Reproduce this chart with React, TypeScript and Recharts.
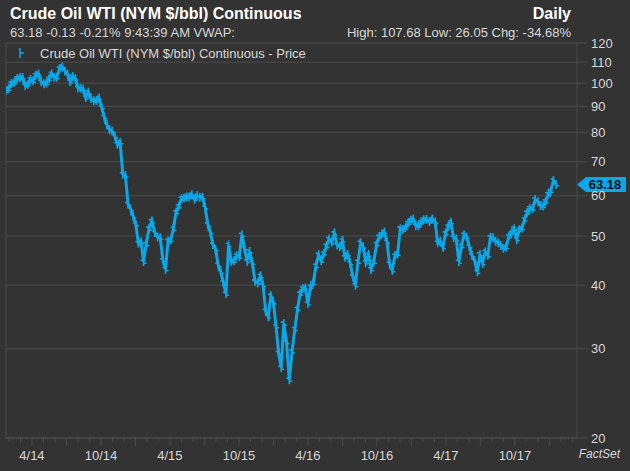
import React from "react";
import { ComposedChart, Line, XAxis, YAxis, CartesianGrid, ReferenceLine } from "recharts";

const FONT = '"Liberation Sans", Arial, Helvetica, sans-serif';
const BG = "#333333";
const GRID = "#4b4b4b";
const BLUE = "#0aa8e8";
const TEXT = "#d8d8d8";

// Weekly (Friday) prices, first one on 2014-01-24
const firstFriday = Date.UTC(2014, 0, 24);

const prices2014 = [
  96.6, 97.5, 99.9, 100.3, 102.2, 102.6, 102.6, 98.9, 99.5, 101.7, 101.1, 103.7, 104.3,
  100.6, 99.8, 100.0, 102.0, 104.4, 102.7, 102.7, 106.9, 107.68, 105.7, 104.1, 100.8,
  103.1, 102.1, 97.9, 97.7, 97.4, 93.7, 96.0, 93.3, 92.3, 92.4, 93.5, 89.7, 85.8, 82.8,
  81.0, 80.5, 78.7, 75.8, 76.5, 66.2, 65.8, 57.8, 56.5, 54.7,
];
const prices2015 = [
  52.7, 48.4, 48.7, 44.5, 48.2, 51.7, 53.5, 50.8, 49.8, 49.6, 44.8, 43.0, 48.9, 49.1,
  51.6, 55.7, 57.2, 59.2, 59.4, 59.7, 59.7, 60.3, 59.1, 60.0, 59.6, 59.6, 56.9, 52.7,
  50.9, 48.1, 47.1, 43.9, 42.5, 40.5, 38.5, 48.0, 44.6, 44.7, 45.7, 45.5, 50.3, 47.3,
  44.6, 46.6, 44.3, 40.7, 40.4, 41.7, 40.0, 35.6, 34.7, 38.1,
];
const prices2016 = [
  37.0, 33.2, 29.4, 27.5, 33.6, 30.9, 26.05, 29.6, 32.8, 35.9, 38.5, 39.4, 39.5, 36.8,
  39.7, 40.4, 43.7, 45.9, 44.7, 46.2, 47.8, 49.3, 48.6, 50.6, 48.0, 47.6, 49.0, 45.4,
  46.0, 44.2, 41.6, 40.0, 44.5, 48.5, 47.6, 44.4, 45.9, 43.0, 44.5, 48.2, 49.8, 50.4,
  50.9, 48.7, 44.1, 42.8, 45.7, 46.1, 51.7, 51.5, 51.9, 53.0, 53.7,
];
const prices2017 = [
  54.0, 52.4, 52.4, 53.2, 53.8, 53.9, 53.4, 54.0, 53.3, 48.5, 48.8, 47.5, 50.6, 52.2,
  53.2, 49.6, 49.3, 44.5, 47.8, 50.3, 49.8, 47.7, 45.8, 44.7, 42.5, 46.0, 44.2, 46.5,
  45.8, 49.7, 49.6, 48.8, 48.5, 47.9, 47.3, 47.5, 49.9, 50.7, 51.7, 49.3, 51.5, 51.8,
  53.9, 55.6, 56.7, 56.6, 59.0, 58.4, 57.4, 57.3, 58.5, 60.4,
];
const prices2018 = [61.4, 64.3, 63.18];

const lastPrice = 63.18;
const yTicks = [20, 30, 40, 50, 60, 70, 80, 90, 100, 110, 120];
// month index 0 = Jan 2014
const monthTicks = Array.from({ length: 50 }, (_, i) => i + 1);
const quarterLines = monthTicks.filter((m) => m % 3 === 0);

const monthPos = (ms: number) => {
  const d = new Date(ms);
  const y = d.getUTCFullYear();
  const m = d.getUTCMonth();
  const dim = new Date(Date.UTC(y, m + 1, 0)).getUTCDate();
  return (y - 2014) * 12 + m + (d.getUTCDate() - 1) / dim;
};

const allPrices = [...prices2014, ...prices2015, ...prices2016, ...prices2017, ...prices2018];
const data = allPrices.map((p, i) => ({ t: monthPos(firstFriday + i * 7 * 86400000), p }));

const MonthTick = ({ x, y, payload }: any) => {
  const t = payload.value as number;
  const m = t % 12;
  const yr = 14 + Math.floor(t / 12);
  const label = m === 3 ? `4/${yr}` : m === 9 ? `10/${yr}` : "";
  return (
    <g>
      <line x1={x} x2={x} y1={y} y2={y + (t % 3 === 0 ? 8 : 4)} stroke={GRID} />
      {label && (
        <text x={x} y={y + 22} textAnchor="middle" fill={TEXT} fontSize={13} fontFamily={FONT}>
          {label}
        </text>
      )}
    </g>
  );
};

// small high/low style cross on every weekly point
const PriceDot = (props: any) => {
  const { cx, cy, index } = props;
  if (cx == null || cy == null) return <g key={index} />;
  return (
    <path
      key={index}
      d={`M${cx},${cy - 4.5}V${cy + 4.5}M${cx - 3},${cy - 1.5}H${cx}M${cx},${cy + 1.5}H${cx + 3}`}
      stroke={BLUE}
      strokeWidth={1.6}
      fill="none"
    />
  );
};

const PriceTag = ({ viewBox }: any) => {
  if (!viewBox) return null;
  const tip = viewBox.x + viewBox.width;
  const y = viewBox.y;
  return (
    <g>
      <path d={`M${tip},${y}L${tip + 9},${y - 7.5}H${tip + 49}V${y + 7.5}H${tip + 9}Z`} fill={BLUE} />
      <text x={tip + 28} y={y} dy="0.36em" textAnchor="middle" fontWeight="bold" fontSize={13} fill="#111" fontFamily={FONT}>
        {lastPrice.toFixed(2)}
      </text>
    </g>
  );
};

const quarterGrid = ({ xAxis, offset }: any) => {
  const s = xAxis && xAxis.scale;
  const pts = typeof s === "function" ? quarterLines.map((q) => s(q)) : [];
  return [offset.left, ...pts];
};

export default function App() {
  return (
    <div style={{ position: "absolute", left: 0, top: 0, width: 630, height: 471, background: BG, fontFamily: FONT }}>
      <ComposedChart width={630} height={471} data={data} margin={{ top: 43, right: 0, bottom: 0, left: 6 }}>
        <CartesianGrid stroke={GRID} verticalCoordinatesGenerator={quarterGrid} />
        <XAxis
          dataKey="t"
          type="number"
          domain={["dataMin", 50.4]}
          allowDataOverflow
          ticks={monthTicks}
          interval={0}
          height={33}
          tickSize={0}
          tickMargin={0}
          tickLine={false}
          stroke={GRID}
          tick={<MonthTick />}
        />
        <YAxis
          orientation="right"
          scale="log"
          domain={[20, 120]}
          allowDataOverflow
          ticks={yTicks}
          interval={0}
          width={53}
          tickSize={10}
          tickMargin={4}
          stroke={GRID}
          tick={{ fill: TEXT, fontSize: 13, fontFamily: FONT }}
        />
        <Line
          dataKey="p"
          type="linear"
          stroke={BLUE}
          strokeWidth={3}
          dot={PriceDot}
          activeDot={false}
          isAnimationActive={false}
        />
        <ReferenceLine y={lastPrice} stroke="none" label={(p: any) => <PriceTag {...p} />} />
      </ComposedChart>
      <svg width={630} height={471} style={{ position: "absolute", left: 0, top: 0, pointerEvents: "none" }} fontFamily={FONT}>
        <text x={10} y={19} fill="#ffffff" fontSize={16} fontWeight="bold">
          Crude Oil WTI (NYM $/bbl) Continuous
        </text>
        <text x={571} y={19} fill="#ffffff" fontSize={16} fontWeight="bold" textAnchor="end">
          Daily
        </text>
        <text x={10} y={37} fill={TEXT} fontSize={13}>
          63.18 -0.13 -0.21% 9:43:39 AM VWAP:
        </text>
        <text x={571} y={37} fill={TEXT} fontSize={13} textAnchor="end">
          High: 107.68 Low: 26.05 Chg: -34.68%
        </text>
        <rect x={7} y={44} width={330} height={17} fill={BG} />
        <path d="M20,48V58M20,53H24" stroke={BLUE} strokeWidth={1.5} fill="none" />
        <text x={40} y={57.5} fill={TEXT} fontSize={13}>
          Crude Oil WTI (NYM $/bbl) Continuous - Price
        </text>
        <text x={620} y={458} fill={TEXT} fontSize={12} fontStyle="italic" textAnchor="end">
          FactSet
        </text>
      </svg>
    </div>
  );
}
